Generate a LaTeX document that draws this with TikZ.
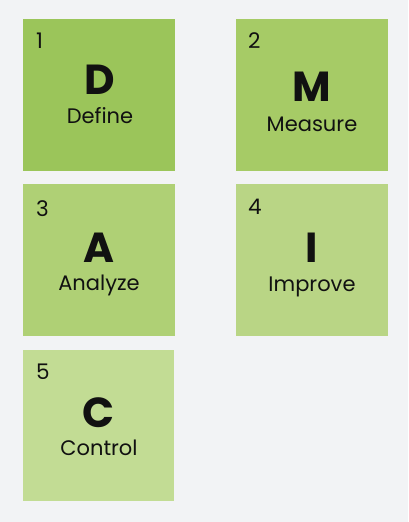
\documentclass[tikz,border=0pt]{standalone}
\usepackage{fontspec}
\setmainfont{Poppins}
\definecolor{bgc}{RGB}{242,243,245}
\definecolor{cone}{RGB}{155,197,90}
\definecolor{ctwo}{RGB}{166,203,102}
\definecolor{cthree}{RGB}{175,208,117}
\definecolor{cfour}{RGB}{185,213,133}
\definecolor{cfive}{RGB}{194,220,148}
\definecolor{ink}{RGB}{17,17,17}
\tikzset{
  tile/.style={draw=none, minimum width=152pt, minimum height=152pt, inner sep=0pt, anchor=north west},
  numtxt/.style={anchor=base west, inner sep=0pt, text=ink, font=\fontsize{21.5}{24}\selectfont},
  bigtxt/.style={anchor=base, inner sep=0pt, text=ink, font=\fontsize{42}{48}\selectfont\bfseries},
  labtxt/.style={anchor=base, inner sep=0pt, text=ink, font=\fontsize{21}{24}\selectfont},
}
\begin{document}
\begin{tikzpicture}[x=1pt,y=-1pt]
\fill[bgc] (0,0) rectangle (408,522);
\useasboundingbox (0,0) rectangle (408,522);
\node[tile, fill=cone] (t1) at (23,19) {};
\node[tile, fill=ctwo] (t2) at (236,19) {};
\node[tile, fill=cthree] (t3) at (23,184) {};
\node[tile, fill=cfour] (t4) at (236,184) {};
\node[tile, fill=cfive, minimum width=151pt, minimum height=151pt] (t5) at (23,350) {};
\node[numtxt] (n1) at (36,48) {1};
\node[bigtxt] (b1) at (100,94) {D};
\node[labtxt] (l1) at (100,123) {Define};
\node[numtxt] (n2) at (248,48) {2};
\node[bigtxt] (b2) at (312,101) {M};
\node[labtxt] (l2) at (312,131) {Measure};
\node[numtxt] (n3) at (36,216) {3};
\node[bigtxt] (b3) at (99,262) {A};
\node[labtxt] (l3) at (99,290) {Analyze};
\node[numtxt] (n4) at (248,214) {4};
\node[bigtxt] (b4) at (312,262) {I};
\node[labtxt] (l4) at (312,291) {Improve};
\node[numtxt] (n5) at (36,379) {5};
\node[bigtxt] (b5) at (99,427) {C};
\node[labtxt] (l5) at (99,455) {Control};
\end{tikzpicture}
\end{document}
